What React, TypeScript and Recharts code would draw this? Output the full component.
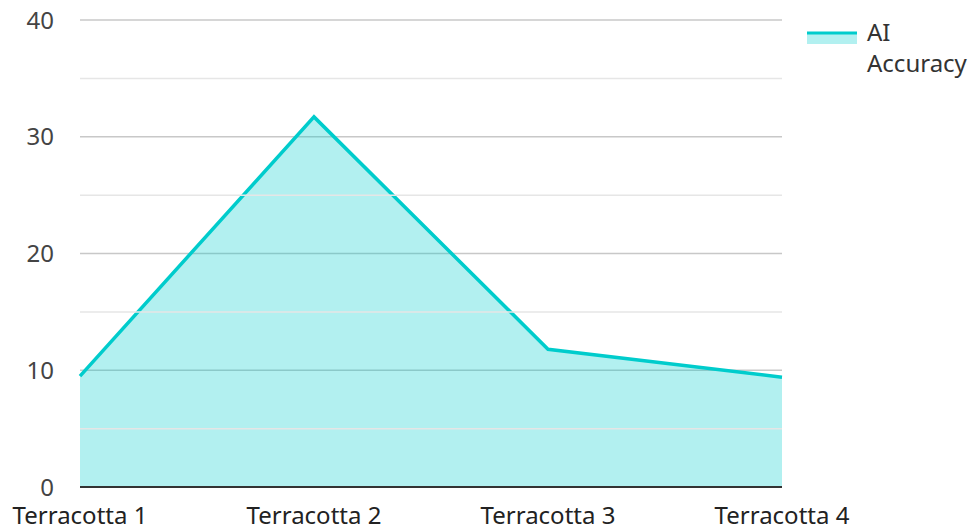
import { AreaChart, Area, XAxis, YAxis, CartesianGrid, ReferenceLine } from "recharts";

const categories = ["Terracotta 1", "Terracotta 2", "Terracotta 3", "Terracotta 4"];
const accuracy = [9.5, 31.7, 11.8, 9.4];
const yTicks = [0, 10, 20, 30, 40];
const minorTicks = [5, 15, 25, 35];

const data = categories.map((name, i) => ({ name, accuracy: accuracy[i] }));

const FONT = "'Noto Sans', 'Open Sans', sans-serif";
const CYAN = "#00cccc";

function LegendBox() {
  return (
    <div
      style={{
        position: "absolute",
        left: 807,
        top: 16,
        display: "flex",
        alignItems: "flex-start",
        fontFamily: FONT,
        fontSize: 24,
        color: "#333",
      }}
    >
      <svg width={52} height={20} style={{ marginTop: 14, marginRight: 8 }}>
        <rect x={0} y={3} width={50} height={11} fill={CYAN} fillOpacity={0.3} />
        <line x1={0} y1={3} x2={50} y2={3} stroke={CYAN} strokeWidth={3} />
      </svg>
      <div style={{ lineHeight: "31px" }}>
        AI
        <br />
        Accuracy
      </div>
    </div>
  );
}

export default function App() {
  return (
    <div style={{ position: "absolute", left: 0, top: 0, width: 972, height: 529, background: "#fff" }}>
      <AreaChart width={972} height={529} data={data} margin={{ top: 20, right: 190, bottom: 12, left: 0 }}>
        <CartesianGrid vertical={false} stroke="#c8c8c8" strokeWidth={1.5} />
        {minorTicks.map((t) => (
          <ReferenceLine key={t} y={t} stroke="#e6e6e6" strokeWidth={1.5} />
        ))}
        <XAxis
          dataKey="name"
          tickLine={false}
          tickSize={0}
          tickMargin={20}
          height={30}
          axisLine={{ stroke: "#333", strokeWidth: 2 }}
          tick={{ fontFamily: FONT, fontSize: 24, fill: "#222" }}
          interval={0}
        />
        <YAxis
          domain={[0, 40]}
          ticks={yTicks}
          width={80}
          axisLine={false}
          tickLine={false}
          tickSize={0}
          tickMargin={26}
          tick={{ fontFamily: FONT, fontSize: 24, fill: "#444" }}
        />
        <Area
          type="linear"
          dataKey="accuracy"
          stroke={CYAN}
          strokeWidth={3.5}
          fill={CYAN}
          fillOpacity={0.3}
          isAnimationActive={false}
          dot={false}
          activeDot={false}
        />
      </AreaChart>
      <LegendBox />
    </div>
  );
}
